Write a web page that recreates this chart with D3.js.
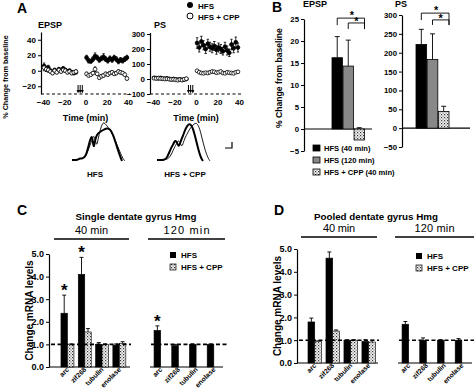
<!DOCTYPE html>
<html><head><meta charset="utf-8">
<script src="https://cdn.jsdelivr.net/npm/d3@7"></script>
<style>
body{margin:0;background:#fff}
svg{display:block;font-family:"Liberation Sans",Arial,sans-serif;font-weight:bold}
</style>
</head><body>
<svg id="c" width="474" height="390"></svg>
<script>
// ---------------- DATA ----------------
const timeBase = [-39,-37,-35,-33,-31,-29,-27,-25,-23,-21,-19,-17,-15,-13,-11,-9];
const timePost = [1,3,5,7,9,11,13,15,17,19,21,23,25,27,29,31,33,35,37,39];
const hfsArrowTimes = [-7,-5,-3];

const epspHfsBase = [6,3,4,0,-2,1,-1,2,0,3,1,-1,0,-2,-3,-2];
const epspCppBase = [4,2,1,-1,-3,0,-2,1,-1,1,0,-2,-1,-3,-2,-1];
const epspBaseErr = [4,3,3,2,2,2,2,2,2,2,2,2,2,2,2,2];
const epspHfsPost = [17,13,12,15,19,17,14,16,18,15,13,16,14,17,15,12,14,13,15,17];
const epspHfsPostErr = [3,3,2,3,4,3,3,3,4,3,3,3,3,3,3,3,3,3,3,3];
const epspCppPost = [-4,-6,-5,-3,2,-4,-9,-7,-6,-4,-5,-3,-2,-4,-3,-1,-2,-3,-5,-10];
const epspCppPostErr = [2,2,2,2,3,2,2,2,2,2,2,2,2,2,2,2,2,2,2,2];

const psHfsBase = [8,6,5,7,3,2,4,1,-2,0,-3,-5,-2,-6,-4,0];
const psCppBase = [5,4,6,3,2,0,1,-1,-3,-2,-5,-8,-4,-7,-2,2];
const psBaseErr = [6,5,5,5,5,5,5,5,5,5,5,5,5,5,5,5];
const psHfsPost = [240,210,250,225,200,235,215,205,220,195,210,200,185,215,190,175,230,205,245,210];
const psHfsPostErr = [35,30,35,30,30,30,30,30,30,30,30,30,25,30,30,25,35,30,35,30];
const psCppPost = [55,45,40,38,42,40,45,50,48,42,45,50,40,38,45,42,40,38,45,48];
const psCppPostErr = [8,8,7,7,7,7,7,8,8,7,7,8,7,7,7,7,7,7,7,8];

// EPSP waveform traces (ms offset, mV deflection up)
const traceHfsPreT = [0,6,8,10,14,16,18,20,21,22,23,25,28,31,35,38,41,45,48,50];
const traceHfsPreV = [0,0,2,1,4,12,20,25,17,12,20,26,28,30,32,31,26,13,4,-1];
const traceHfsPostT = [0,6,8,10,14,17,20,22,24,25,27,30,32,35,39,43,48,51,53];
const traceHfsPostV = [0,0,2,1,4,12,20,26,17,14,26,36,38,34,29,20,8,1,-1];
const traceCppPreT = [0,8,10,14,16,18,20,22,24,26,28,30,33,36,39,42,44,46];
const traceCppPreV = [0,0,2,12,15,20,18,12,20,24,30,34,37,32,20,8,2,-1];
const traceCppPostT = [0,8,13,17,19,21,23,25,27,29,32,35,39,42,45,48,51,53];
const traceCppPostV = [0,0,2,12,15,20,18,12,20,24,30,34,38,34,22,10,2,-1];

const bCategories = ["HFS (40 min)","HFS (120 min)","HFS + CPP (40 min)"];
const bEpspValues = [16.2, 14.3, -2.5];
const bEpspErrTop = [21.0, 20.2, 0.3];
const bPsValues = [222, 182, 44];
const bPsErrTop = [262, 250, 58];
const bEpspTicks = [-5,0,5,10,15,20,25];
const bPsTicks = [-50,0,50,100,150,200,250,300];

const genes = ["arc","zif268","tubulin","enolase"];
const c40Hfs = [2.38, 4.1, 1.0, 0.97];
const c40HfsErr = [0.8, 0.75, 0.08, 0.05];
const c40Cpp = [1.0, 1.55, 1.0, 1.05];
const c40CppErr = [0.02, 0.15, 0.02, 0.07];
const c120Hfs = [1.62, 0.95, 1.0, 1.0];
const c120HfsErr = [0.2, 0.05, 0.02, 0.02];
const d40Hfs = [1.8, 4.6, 1.0, 0.95];
const d40HfsErr = [0.17, 0.27, 0.02, 0.07];
const d40Cpp = [0.95, 1.4, 1.0, 0.92];
const d40CppErr = [0.02, 0.05, 0.02, 0.08];
const d120Hfs = [1.7, 1.0, 1.0, 1.0];
const d120HfsErr = [0.12, 0.1, 0.02, 0.07];
const mrnaTicks = [0,1,2,3,4,5];

// ---------------- DRAW ----------------
const svg = d3.select("#c");
svg.append("rect").attr("width",474).attr("height",390).attr("fill","#fff");
const defs = svg.append("defs");
const pat = defs.append("pattern").attr("id","dots").attr("patternUnits","userSpaceOnUse")
  .attr("width",3).attr("height",3);
pat.append("rect").attr("width",3).attr("height",3).attr("fill","#f4f4f4");
pat.append("rect").attr("width",1.2).attr("height",1.2).attr("fill","#333");
pat.append("rect").attr("x",1.5).attr("y",1.5).attr("width",1.2).attr("height",1.2).attr("fill","#777");

function txt(x,y,s,size,opts={}){
  const t = svg.append("text").attr("x",x).attr("y",y).text(s).attr("font-size",size);
  if(opts.anchor) t.attr("text-anchor",opts.anchor);
  if(opts.weight) t.attr("font-weight",opts.weight);
  if(opts.len) t.attr("textLength",opts.len).attr("lengthAdjust","spacing");
  if(opts.rotate!==undefined) t.attr("transform",`rotate(${opts.rotate},${x},${y})`);
  return t;
}
function styleAxis(g,size){
  g.selectAll("text").attr("font-size",size).attr("font-weight","bold").attr("fill","#000")
   .attr("font-family",'"Liberation Sans",Arial,sans-serif');
  g.selectAll("line").attr("stroke","#000").attr("stroke-width",1);
  g.selectAll("path.domain").attr("stroke","#000").attr("stroke-width",1.2);
}

// ---- Panel A ----
txt(17,13,"A",14);
svg.append("circle").attr("cx",190).attr("cy",5).attr("r",3).attr("fill","#000");
txt(198,8.5,"HFS",8);
svg.append("circle").attr("cx",190).attr("cy",16).attr("r",3).attr("fill","#fff").attr("stroke","#000").attr("stroke-width",1);
txt(198,19.5,"HFS + CPP",8);
txt(8,77,"% Change from baseline",7.2,{anchor:"middle",rotate:-90});

function tsPanel(o){
  const x = d3.scaleLinear().domain([-40,40]).range([o.xl,o.xr]);
  const y = d3.scaleLinear().domain(o.yDom).range([94,o.yTop]);
  const ga = svg.append("g").attr("transform",`translate(${o.axisX},0)`)
    .call(d3.axisLeft(y).tickValues(o.yTicks).tickSize(3).tickSizeOuter(0).tickPadding(2));
  styleAxis(ga,8);
  const gx = svg.append("g").attr("transform","translate(0,94)")
    .call(d3.axisBottom(x).tickValues([-40,-20,0,20,40]).tickSize(0).tickPadding(5));
  styleAxis(gx,8);
  gx.select("path.domain").remove();
  svg.append("line").attr("x1",o.axisX).attr("x2",o.xr+2).attr("y1",94).attr("y2",94)
    .attr("stroke","#000").attr("stroke-width",1.2).attr("stroke-dasharray","3,2.5");
  hfsArrowTimes.forEach(t=>{
    svg.append("line").attr("x1",x(t)).attr("x2",x(t)).attr("y1",85).attr("y2",92)
      .attr("stroke","#000").attr("stroke-width",1);
    svg.append("path").attr("d",`M${x(t)-1.5},90 L${x(t)+1.5},90 L${x(t)},93.5 Z`).attr("fill","#000");
  });
  const series = [
    {t:timeBase,v:o.hfsBase,e:o.baseErr,fill:"#000"},
    {t:timePost,v:o.hfsPost,e:o.hfsPostErr,fill:"#000"},
    {t:timeBase,v:o.cppBase,e:o.baseErr,fill:"#fff"},
    {t:timePost,v:o.cppPost,e:o.cppPostErr,fill:"#fff"}
  ];
  series.forEach(s=>{
    const g = svg.append("g");
    s.t.forEach((t,i)=>{
      const cx = x(t), v=s.v[i], e=s.e[i];
      g.append("line").attr("x1",cx).attr("x2",cx).attr("y1",y(v-e)).attr("y2",y(v+e)).attr("stroke","#000").attr("stroke-width",0.8);
      [v-e,v+e].forEach(w=>g.append("line").attr("x1",cx-1.2).attr("x2",cx+1.2).attr("y1",y(w)).attr("y2",y(w)).attr("stroke","#000").attr("stroke-width",0.8));
    });
    g.selectAll("circle").data(s.t).join("circle")
      .attr("cx",d=>x(d)).attr("cy",(d,i)=>y(s.v[i])).attr("r",1.9)
      .attr("fill",s.fill).attr("stroke","#000").attr("stroke-width",0.8);
  });
  txt(o.titleX,28,o.title,9);
  txt((o.xl+o.xr)/2,121,"Time (min)",9,{anchor:"middle"});
}
tsPanel({xl:43,xr:128,axisX:41,yDom:[-30,50],yTop:32,yTicks:[-20,0,20,40],
  hfsBase:epspHfsBase,cppBase:epspCppBase,baseErr:epspBaseErr,hfsPost:epspHfsPost,hfsPostErr:epspHfsPostErr,
  cppPost:epspCppPost,cppPostErr:epspCppPostErr,title:"EPSP",titleX:38});
tsPanel({xl:153,xr:239,axisX:150,yDom:[-100,310],yTop:32.5,yTicks:[-100,0,100,200,300],
  hfsBase:psHfsBase,cppBase:psCppBase,baseErr:psBaseErr,hfsPost:psHfsPost,hfsPostErr:psHfsPostErr,
  cppPost:psCppPost,cppPostErr:psCppPostErr,title:"PS",titleX:154});

// traces
function tracePair(ox,oy,pre,post,label,lx){
  const tx = d3.scaleLinear().domain([0,1]).range([ox,ox+1]);
  const ty = d3.scaleLinear().domain([0,1]).range([oy,oy-1]);
  const line = d3.line().x(d=>tx(d[0])).y(d=>ty(d[1])).curve(d3.curveBasis);
  svg.append("path").attr("d",line(post[0].map((t,i)=>[t,post[1][i]]))).attr("fill","none").attr("stroke","#000").attr("stroke-width",0.9);
  svg.append("path").attr("d",line(pre[0].map((t,i)=>[t,pre[1][i]]))).attr("fill","none").attr("stroke","#000").attr("stroke-width",2);
  txt(lx,177,label,8,{anchor:"middle"});
}
tracePair(72,160,[traceHfsPreT,traceHfsPreV],[traceHfsPostT,traceHfsPostV],"HFS",95);
tracePair(157,160,[traceCppPreT,traceCppPreV],[traceCppPostT,traceCppPostV],"HFS + CPP",185);
svg.append("path").attr("d","M225,148 H232 V142").attr("fill","none").attr("stroke","#000").attr("stroke-width",1.2);

// ---- Panel B ----
txt(272,12,"B",14);
txt(282,78,"% Change from baseline",8.6,{anchor:"middle",rotate:-90});
const bFills = ["#000","#888","url(#dots)"];
function bPanel(o){
  const y = d3.scaleLinear().domain(o.dom).range(o.range);
  const ga = svg.append("g").attr("transform",`translate(${o.axisX},0)`)
    .call(d3.axisLeft(y).tickValues(o.ticks).tickSize(3).tickSizeOuter(0).tickPadding(2));
  styleAxis(ga,7.8);
  svg.append("line").attr("x1",o.axisX).attr("x2",o.xEnd).attr("y1",y(0)).attr("y2",y(0)).attr("stroke","#000").attr("stroke-width",1.2);
  const x = d3.scaleBand().domain(bCategories).range(o.barRange).paddingInner(0.05);
  const bw = x.bandwidth();
  bCategories.forEach((c,i)=>{
    const v=o.values[i], e=o.errTop[i], cx=x(c)+bw/2;
    svg.append("line").attr("x1",cx).attr("x2",cx).attr("y1",y(Math.max(v,0))).attr("y2",y(e)).attr("stroke","#000").attr("stroke-width",0.9);
    svg.append("line").attr("x1",cx-2.5).attr("x2",cx+2.5).attr("y1",y(e)).attr("y2",y(e)).attr("stroke","#000").attr("stroke-width",0.9);
    svg.append("rect").attr("x",x(c)).attr("width",bw).attr("y",y(Math.max(v,0))).attr("height",Math.abs(y(v)-y(0)))
      .attr("fill",bFills[i]).attr("stroke","#000").attr("stroke-width",0.8);
  });
  const right = x(bCategories[2])+bw;
  o.brackets.forEach(b=>{
    const l = x(bCategories[b.from])+bw/2, top=y(b.level);
    svg.append("path").attr("d",`M${l},${top+b.legL} V${top} H${right} V${top+b.legR}`).attr("fill","none").attr("stroke","#000").attr("stroke-width",0.9);
    txt((l+right)/2+b.sx, top+b.sy,"*",11,{anchor:"middle"});
  });
  txt(o.titleX,7,o.title,9);
}
bPanel({dom:[-5,25],range:[151,19],axisX:304,ticks:bEpspTicks,xEnd:372,barRange:[332,364.5],
  values:bEpspValues,errTop:bEpspErrTop,title:"EPSP",titleX:303,
  brackets:[{from:0,level:25.2,legL:7,legR:11,sx:1,sy:1},{from:1,level:24.1,legL:6,legR:6,sx:0,sy:2}]});
bPanel({dom:[-50,300],range:[147,15],axisX:402,ticks:bPsTicks,xEnd:470,barRange:[416,449],
  values:bPsValues,errTop:bPsErrTop,title:"PS",titleX:395,
  brackets:[{from:0,level:305,legL:7,legR:12,sx:1,sy:1},{from:1,level:287,legL:5,legR:5,sx:0,sy:2}]});
bCategories.forEach((c,i)=>{
  svg.append("rect").attr("x",313).attr("y",145+i*12).attr("width",7).attr("height",6)
    .attr("fill",bFills[i]).attr("stroke","#000").attr("stroke-width",0.8);
  txt(324,151+i*12,c,7.6);
});

// ---- Panels C & D ----
function mrnaPanel(o){
  txt(o.letterX,215,o.letter,14);
  txt(o.titleX,220,o.title,9.8,{anchor:"middle"});
  const y = d3.scaleLinear().domain([0,5]).range([o.y0,o.y5]);
  const ga = svg.append("g").attr("transform",`translate(${o.axisX},0)`)
    .call(d3.axisLeft(y).tickValues(mrnaTicks).tickSize(3).tickSizeOuter(0).tickPadding(2));
  styleAxis(ga,9);
  txt(o.axisX-16,(o.y0+o.y5)/2,"Change mRNA levels",10,{anchor:"middle",rotate:-90});
  o.groups.forEach(gp=>{
    txt((gp.line[0]+gp.line[1])/2,o.labelY,gp.label,11,{anchor:"middle",weight:"normal",len:gp.labelLen});
    svg.append("line").attr("x1",gp.line[0]).attr("x2",gp.line[1]).attr("y1",o.lineY).attr("y2",o.lineY).attr("stroke","#000").attr("stroke-width",1.6);
    const x = d3.scaleBand().domain(genes).range(gp.range).paddingInner(0.25).paddingOuter(0.2);
    const bw = x.bandwidth()/2;
    svg.append("line").attr("x1",gp.axis[0]).attr("x2",gp.axis[1]).attr("y1",y(0)).attr("y2",y(0)).attr("stroke","#000").attr("stroke-width",1.2);
    const sets = [{v:gp.hfs,e:gp.hfsErr,fill:"#000",off:0}];
    if(gp.cpp) sets.push({v:gp.cpp,e:gp.cppErr,fill:"url(#dots)",off:bw});
    sets.forEach(s=>{
      genes.forEach((g,i)=>{
        const bx = x(g)+s.off, cx=bx+bw/2, v=s.v[i], e=v+s.e[i];
        svg.append("line").attr("x1",cx).attr("x2",cx).attr("y1",y(v)).attr("y2",y(e)).attr("stroke","#000").attr("stroke-width",0.9);
        svg.append("line").attr("x1",cx-2).attr("x2",cx+2).attr("y1",y(e)).attr("y2",y(e)).attr("stroke","#000").attr("stroke-width",0.9);
        svg.append("rect").attr("x",bx).attr("width",bw).attr("y",y(v)).attr("height",y(0)-y(v))
          .attr("fill",s.fill).attr("stroke","#000").attr("stroke-width",0.6);
      });
    });
    (gp.stars||[]).forEach(i=>{
      const cx = x(genes[i])+bw/2;
      txt(cx,y(gp.hfs[i]+gp.hfsErr[i])+1,"*",17,{anchor:"middle"});
    });
    svg.append("line").attr("x1",gp.dash[0]).attr("x2",gp.dash[1]).attr("y1",y(1)).attr("y2",y(1))
      .attr("stroke","#000").attr("stroke-width",1.6).attr("stroke-dasharray","4,2.5");
    genes.forEach(g=>{
      const cx = x(g)+x.bandwidth()/2+2, yy=y(0)+3;
      txt(cx,yy,g,6.8,{anchor:"end",rotate:-45});
    });
  });
  svg.append("rect").attr("x",o.legX).attr("y",o.legY).attr("width",6).attr("height",6).attr("fill","#000");
  txt(o.legX+11,o.legY+6,"HFS",8);
  svg.append("rect").attr("x",o.legX).attr("y",o.legY+12).attr("width",6).attr("height",6).attr("fill","url(#dots)").attr("stroke","#000").attr("stroke-width",0.7);
  txt(o.legX+11,o.legY+18,"HFS + CPP",8);
}
mrnaPanel({letter:"C",letterX:17,title:"Single dentate gyrus Hmg",titleX:136,axisX:49,y0:367,y5:254,labelY:234,lineY:239,
  legX:170,legY:252,
  groups:[
    {label:"40 min",labelLen:33,line:[54,129],range:[57.5,129.3],axis:[49,130],dash:[51,131],hfs:c40Hfs,hfsErr:c40HfsErr,cpp:c40Cpp,cppErr:c40CppErr,stars:[0,1]},
    {label:"120 min",labelLen:46,line:[148,225],range:[150.5,224],axis:[150,223],dash:[151,227],hfs:c120Hfs,hfsErr:c120HfsErr,stars:[0]}
  ]});
mrnaPanel({letter:"D",letterX:274,title:"Pooled dentate gyrus Hmg",titleX:376,axisX:297,y0:363,y5:249,labelY:232,lineY:237,
  legX:416,legY:253,
  groups:[
    {label:"40 min",labelLen:32,line:[301,377],range:[304.4,379],axis:[297,378],dash:[299,379],hfs:d40Hfs,hfsErr:d40HfsErr,cpp:d40Cpp,cppErr:d40CppErr},
    {label:"120 min",labelLen:40,line:[395,474],range:[398.5,472],axis:[398,472],dash:[399,474],hfs:d120Hfs,hfsErr:d120HfsErr}
  ]});
</script>
</body></html>
